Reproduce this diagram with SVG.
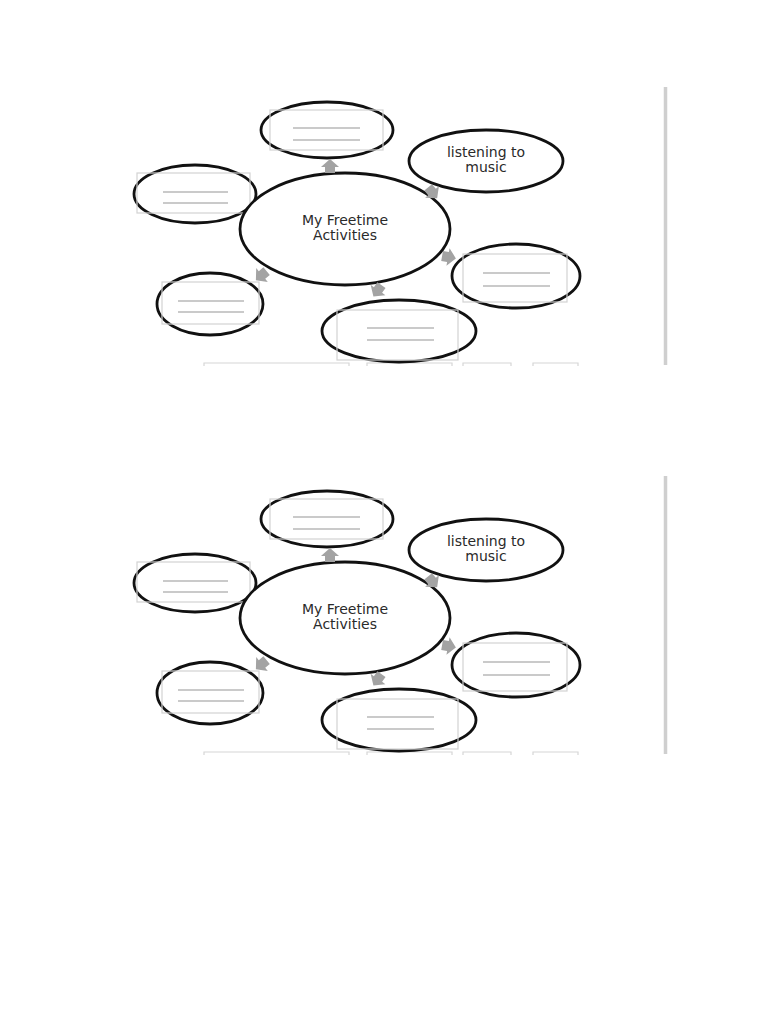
<svg xmlns="http://www.w3.org/2000/svg" xmlns:xlink="http://www.w3.org/1999/xlink" width="768" height="1024" viewBox="0 0 768 1024">
<style>
.bub{fill:#fff;stroke:#111;stroke-width:2.8}
.box{fill:none;stroke:#d2d2d2;stroke-width:1.2}
.ln{stroke:#b8b8b8;stroke-width:1.3}
.lbl{font-family:"DejaVu Sans","Liberation Sans",sans-serif;font-size:14px;fill:#2a2a2a;text-anchor:middle}
.arr{fill:#a3a3a3}
.edge{fill:none;stroke:#d6d6d6;stroke-width:1.2}
</style>
<defs>
<path id="ah" d="M0,-8 L9,0 L5,0 L5,6 L-5,6 L-5,0 L-9,0 Z"/>
</defs>
<rect width="768" height="1024" fill="#fff"/>
<g id="sheet1">
  <line x1="665.5" y1="87" x2="665.5" y2="365" stroke="#cfcfcf" stroke-width="3.5"/>
  <g id="bottom-boxes">
    <path class="edge" d="M204,366 V363 H349 V366 M367,366 V363 H452 V366 M463,366 V363 H511 V366 M533,366 V363 H578 V366"/>
  </g>
  <g id="node-top">
    <ellipse class="bub" cx="327" cy="130" rx="66" ry="28"/>
    <rect class="box" x="270" y="110" width="113" height="40"/>
    <line class="ln" x1="293" y1="128" x2="360" y2="128"/>
    <line class="ln" x1="293" y1="140" x2="360" y2="140"/>
  </g>
  <g id="node-left">
    <ellipse class="bub" cx="195" cy="194" rx="61" ry="29"/>
    <rect class="box" x="137" y="173" width="113" height="40"/>
    <line class="ln" x1="163" y1="192" x2="228" y2="192"/>
    <line class="ln" x1="163" y1="203" x2="228" y2="203"/>
  </g>
  <g id="node-listening">
    <ellipse class="bub" cx="486" cy="161" rx="77" ry="31"/>
    <text class="lbl" x="486" y="157">listening to</text>
    <text class="lbl" x="486" y="172">music</text>
  </g>
  <g id="node-right">
    <ellipse class="bub" cx="516" cy="276" rx="64" ry="32"/>
    <rect class="box" x="463" y="254" width="104" height="48"/>
    <line class="ln" x1="483" y1="273" x2="550" y2="273"/>
    <line class="ln" x1="483" y1="286" x2="550" y2="286"/>
  </g>
  <g id="node-bottom">
    <ellipse class="bub" cx="399" cy="331" rx="77" ry="31"/>
    <rect class="box" x="337" y="310" width="121" height="50"/>
    <line class="ln" x1="367" y1="328" x2="434" y2="328"/>
    <line class="ln" x1="367" y1="340" x2="434" y2="340"/>
  </g>
  <g id="node-bottom-left">
    <ellipse class="bub" cx="210" cy="304" rx="53" ry="31"/>
    <rect class="box" x="162" y="282" width="97" height="42"/>
    <line class="ln" x1="178" y1="301" x2="244" y2="301"/>
    <line class="ln" x1="178" y1="312" x2="244" y2="312"/>
  </g>
  <g id="node-center">
    <ellipse class="bub" cx="345" cy="229" rx="105" ry="56"/>
    <text class="lbl" x="345" y="225">My Freetime</text>
    <text class="lbl" x="345" y="240">Activities</text>
  </g>
  <g id="connectors" class="arr">
    <use xlink:href="#ah" href="#ah" transform="translate(330,167)"/>
    <use xlink:href="#ah" href="#ah" transform="translate(432,192) rotate(140)"/>
    <use xlink:href="#ah" href="#ah" transform="translate(448,257) rotate(100)"/>
    <use xlink:href="#ah" href="#ah" transform="translate(378,290) rotate(215)"/>
    <use xlink:href="#ah" href="#ah" transform="translate(262,275) rotate(230)"/>
  </g>
</g>
<use id="sheet2" xlink:href="#sheet1" href="#sheet1" transform="translate(0,389)"/>
</svg>
